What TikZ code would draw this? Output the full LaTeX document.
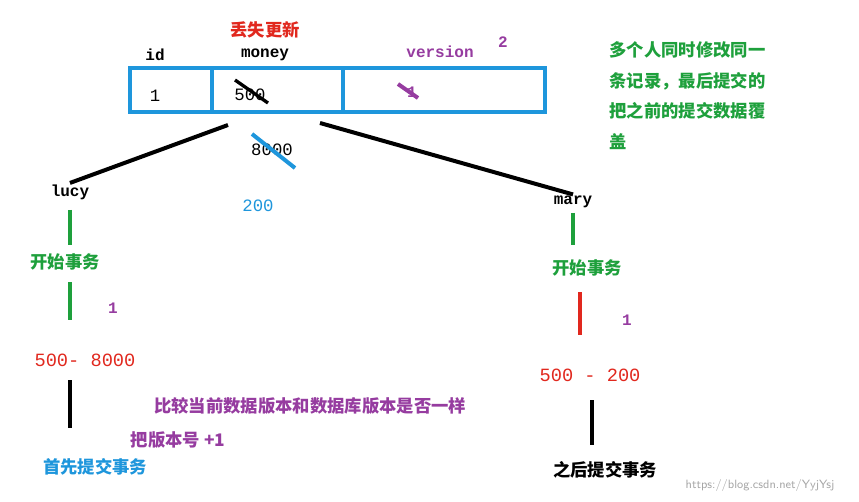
\documentclass[tikz,border=0pt]{standalone}
\usepackage{fontspec}
\setmonofont{Liberation Mono}
\newfontfamily\cjk{Noto Sans CJK SC}
\definecolor{tblue}{RGB}{30,150,220}
\definecolor{tgreen}{RGB}{30,160,60}
\definecolor{tred}{RGB}{225,40,30}
\definecolor{tpurple}{RGB}{150,60,160}
\tikzset{
 mono/.style={font=\ttfamily\bfseries\fontsize{12}{14}\selectfont,inner sep=1pt},
 zh/.style={font=\cjk\bfseries\fontsize{13}{15}\selectfont,inner sep=1pt},
 bar/.style={line width=3.5pt},
 blk/.style={line width=3pt,black}
}
\begin{document}
\begin{tikzpicture}[x=0.75pt,y=-0.75pt]
\fill[white] (0,0) rectangle (859,502);
\useasboundingbox (0,0) rectangle (859,502);
\node[zh,tred] (title) at (265,30) {丢失更新};
\node[mono] (hid) at (155,55) {id};
\node[mono] (hmoney) at (265,55) {money};
\node[mono,tpurple] (hver) at (440,52) {version};
\node[mono,tpurple] (v2) at (503,42) {2};
\draw[tblue,line width=3pt] (130,68) rectangle (545,112);
\draw[tblue,line width=3pt] (212,68) -- (212,112) (343,68) -- (343,112);
\node[mono,font=\ttfamily\fontsize{13}{15}\selectfont] (cid) at (155,96) {1};
\node[mono,font=\ttfamily\fontsize{13}{15}\selectfont] (cmoney) at (250,95) {500};
\draw[line width=2.5pt] (235,80) -- (268,103);
\node[mono,tpurple] (cver) at (412,92) {1};
\draw[tpurple,line width=3pt] (398,84) -- (418,98);
\node[zh,tgreen,align=left,anchor=north west,font=\cjk\bfseries\fontsize{13}{23}\selectfont] (note) at (608,40) {多个人同时修改同一\\条记录，最后提交的\\把之前的提交数据覆\\盖};
\node[mono,font=\ttfamily\fontsize{13}{15}\selectfont] (m8000) at (272,150) {8000};
\draw[tblue,line width=3pt] (252,134) -- (295,168);
\node[mono,tblue,font=\ttfamily\fontsize{13}{15}\selectfont] (m200) at (258,206) {200};
\node[mono] (lucy) at (70,192) {lucy};
\node[mono] (mary) at (573,202) {mary};
\draw[blk] (228,125) -- (lucy.north);
\draw[blk] (320,123) -- (mary.north);
% lucy
\draw[bar,tgreen] (70,210) -- (70,245);
\node[zh,tgreen] (lstart) at (65,262) {开始事务};
\draw[bar,tgreen] (70,282) -- (70,320);
\node[mono,tpurple] (l1) at (113,308) {1};
\node[mono,tred,font=\ttfamily\fontsize{14}{16}\selectfont] (lcalc) at (85,360) {500- 8000};
\draw[blk] (70,380) -- (70,428);
\node[zh,tblue] (lcommit) at (95,467) {首先提交事务};
\node[zh,tpurple] (cmp) at (310,406) {比较当前数据版本和数据库版本是否一样};
\node[zh,tpurple] (inc) at (178,440) {把版本号 +1};
% mary
\draw[bar,tgreen] (573,213) -- (573,245);
\node[zh,tgreen] (mstart) at (587,268) {开始事务};
\draw[bar,tred] (580,292) -- (580,335);
\node[mono,tpurple] (m1) at (627,320) {1};
\node[mono,tred,font=\ttfamily\fontsize{14}{16}\selectfont] (mcalc) at (590,375) {500 - 200};
\draw[blk] (592,400) -- (592,445);
\node[zh] (mcommit) at (605,470) {之后提交事务};
\node[font=\sffamily\fontsize{9}{10}\selectfont,gray!70] (wm) at (760,485) {https://blog.csdn.net/YyjYsj};
\end{tikzpicture}
\end{document}
